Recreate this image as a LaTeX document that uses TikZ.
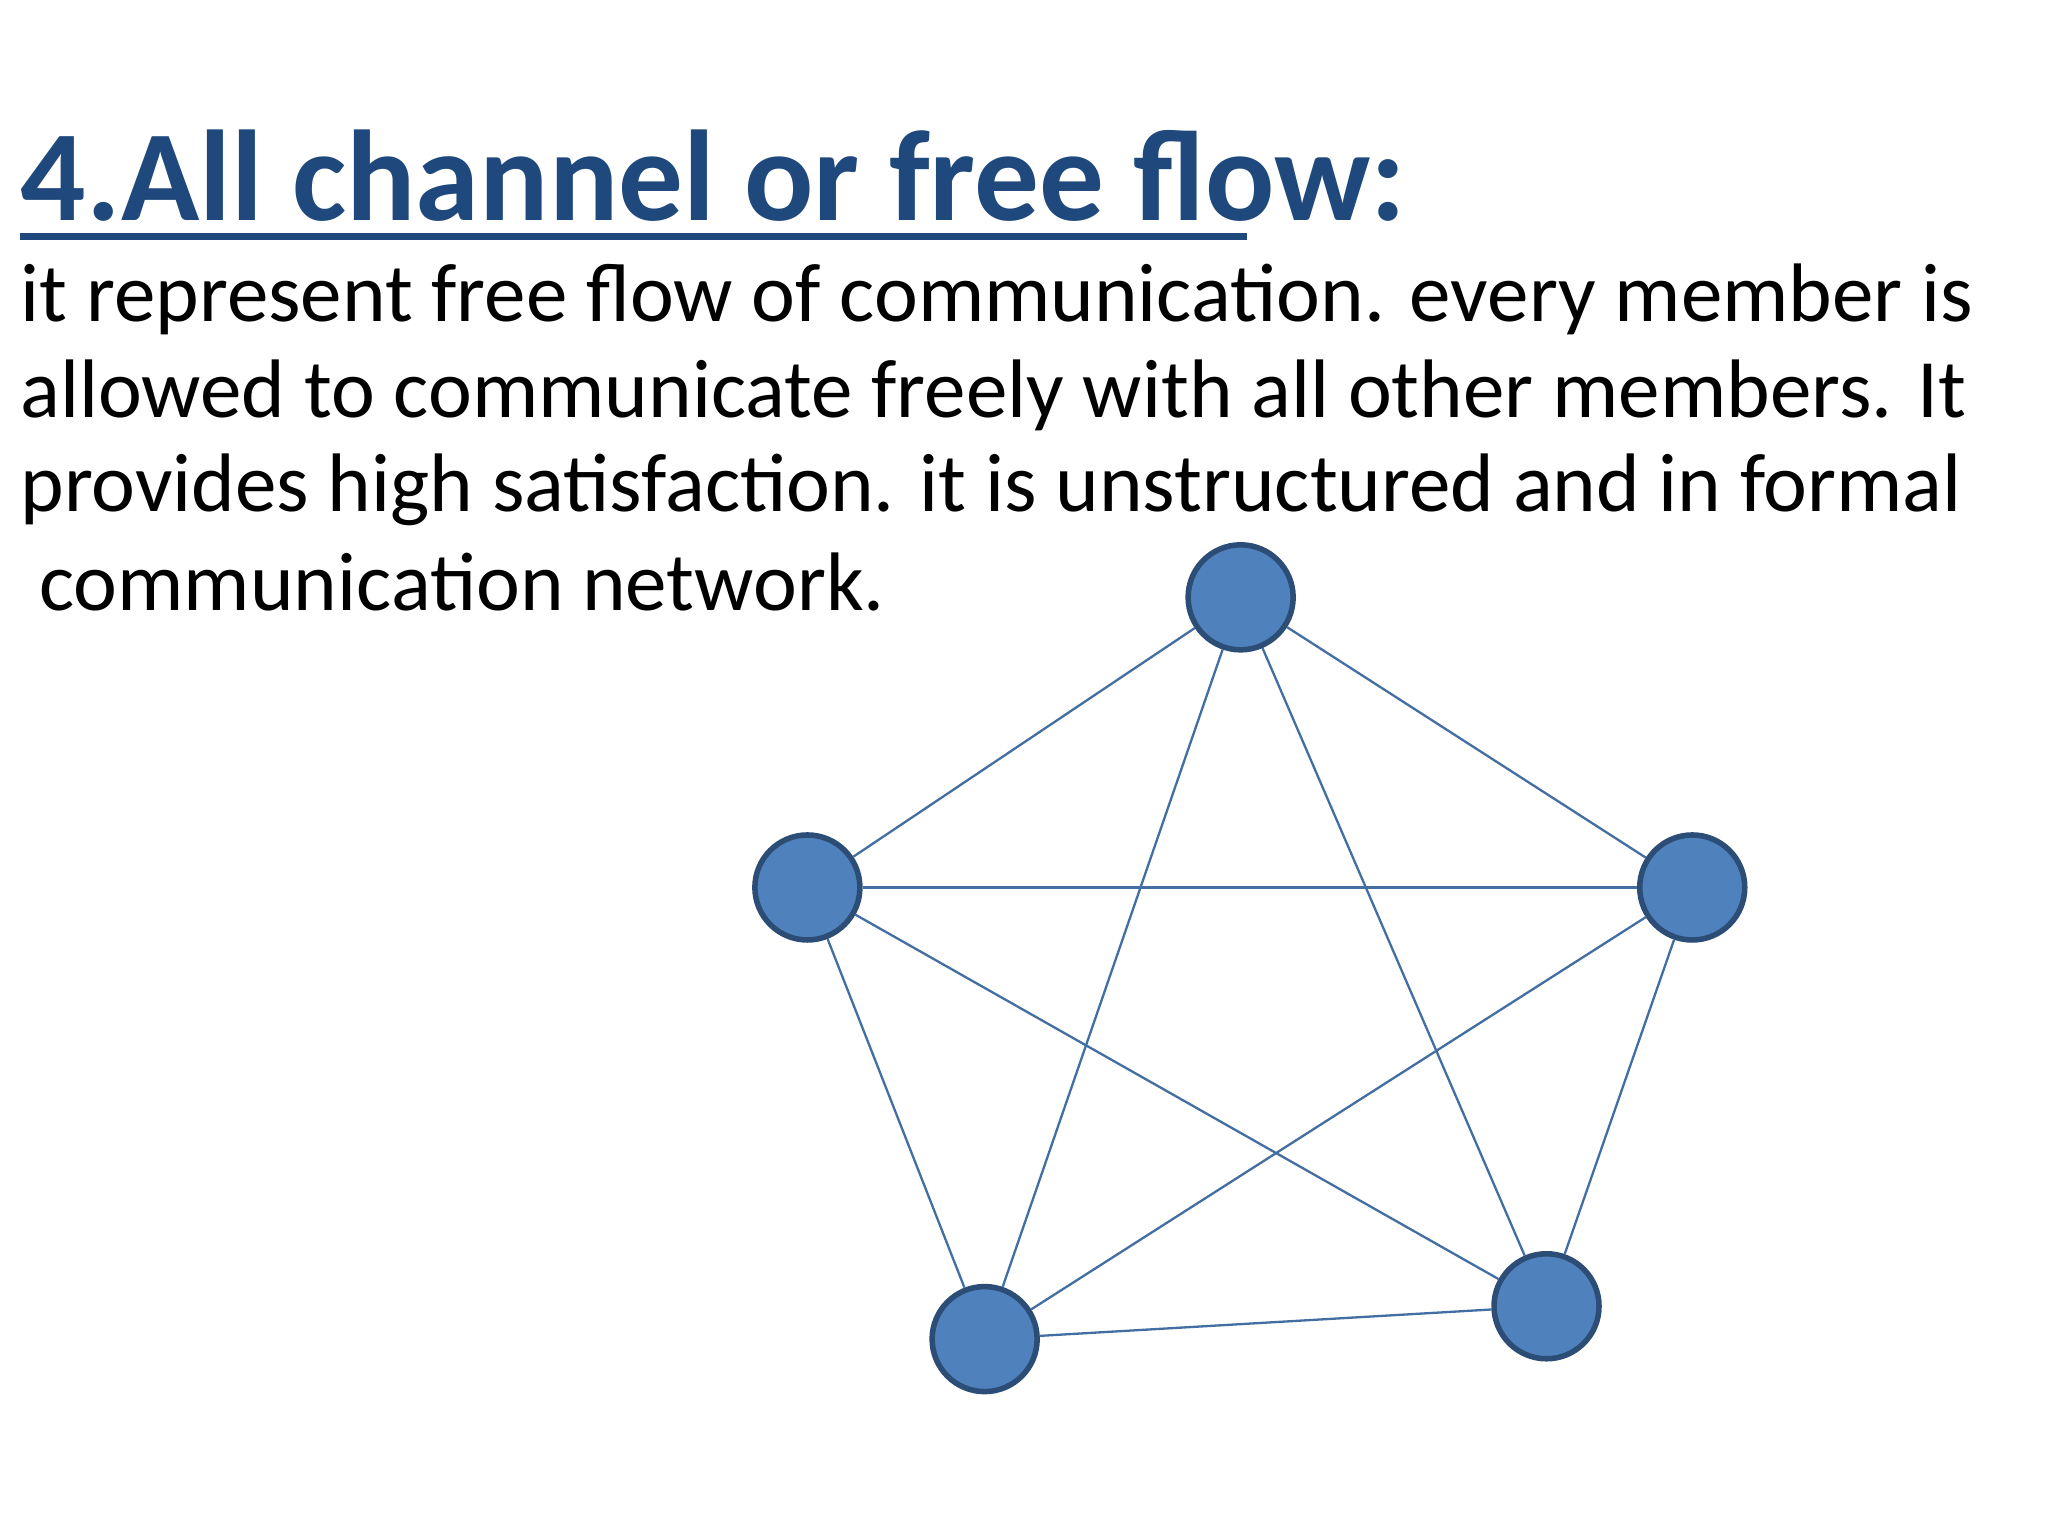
\documentclass[tikz,border=0pt]{standalone}
\usepackage{fontspec}
\setmainfont{Carlito}
\definecolor{titleblue}{HTML}{1F497D}
\definecolor{nodeblue}{HTML}{4F81BD}
\definecolor{rimblue}{HTML}{2C4D75}
\begin{document}
\begin{tikzpicture}[y=-1cm,
  member/.style={circle,fill=nodeblue,draw=rimblue,line width=1.2pt,minimum size=0.8cm,inner sep=0pt},
  link/.style={draw=nodeblue!85!black,line width=0.5pt},
  line/.style={anchor=base west,inner sep=0pt,font=\fontsize{18}{20}\selectfont}]
\useasboundingbox (0,0) rectangle (15.6,11.7);

\node[anchor=base west,inner sep=0pt,text=titleblue,font=\fontsize{28}{30}\selectfont\bfseries] (title) at (0.15,1.68) {4.All channel or free flow:};
\draw[titleblue,line width=1.5pt] (0.15,1.8) -- (9.5,1.8);

\node[line] (l1) at (0.15,2.45) {it represent free flow of communication. every member is};
\node[line] (l2) at (0.15,3.18) {allowed to communicate freely with all other members. It};
\node[line] (l3) at (0.15,3.9) {provides high satisfaction. it is unstructured and in formal};
\node[line] (l4) at (0.15,4.65) {\ communication network.};

\node[member] (top) at (9.45,4.55) {};
\node[member] (left) at (6.15,6.76) {};
\node[member] (right) at (12.89,6.76) {};
\node[member] (botl) at (7.5,10.2) {};
\node[member] (botr) at (11.78,9.95) {};

\foreach \a/\b in {top/left,top/right,top/botl,top/botr,left/right,left/botl,left/botr,right/botl,right/botr,botl/botr}
{
\draw[link] (\a) -- (\b);
}
\end{tikzpicture}
\end{document}
